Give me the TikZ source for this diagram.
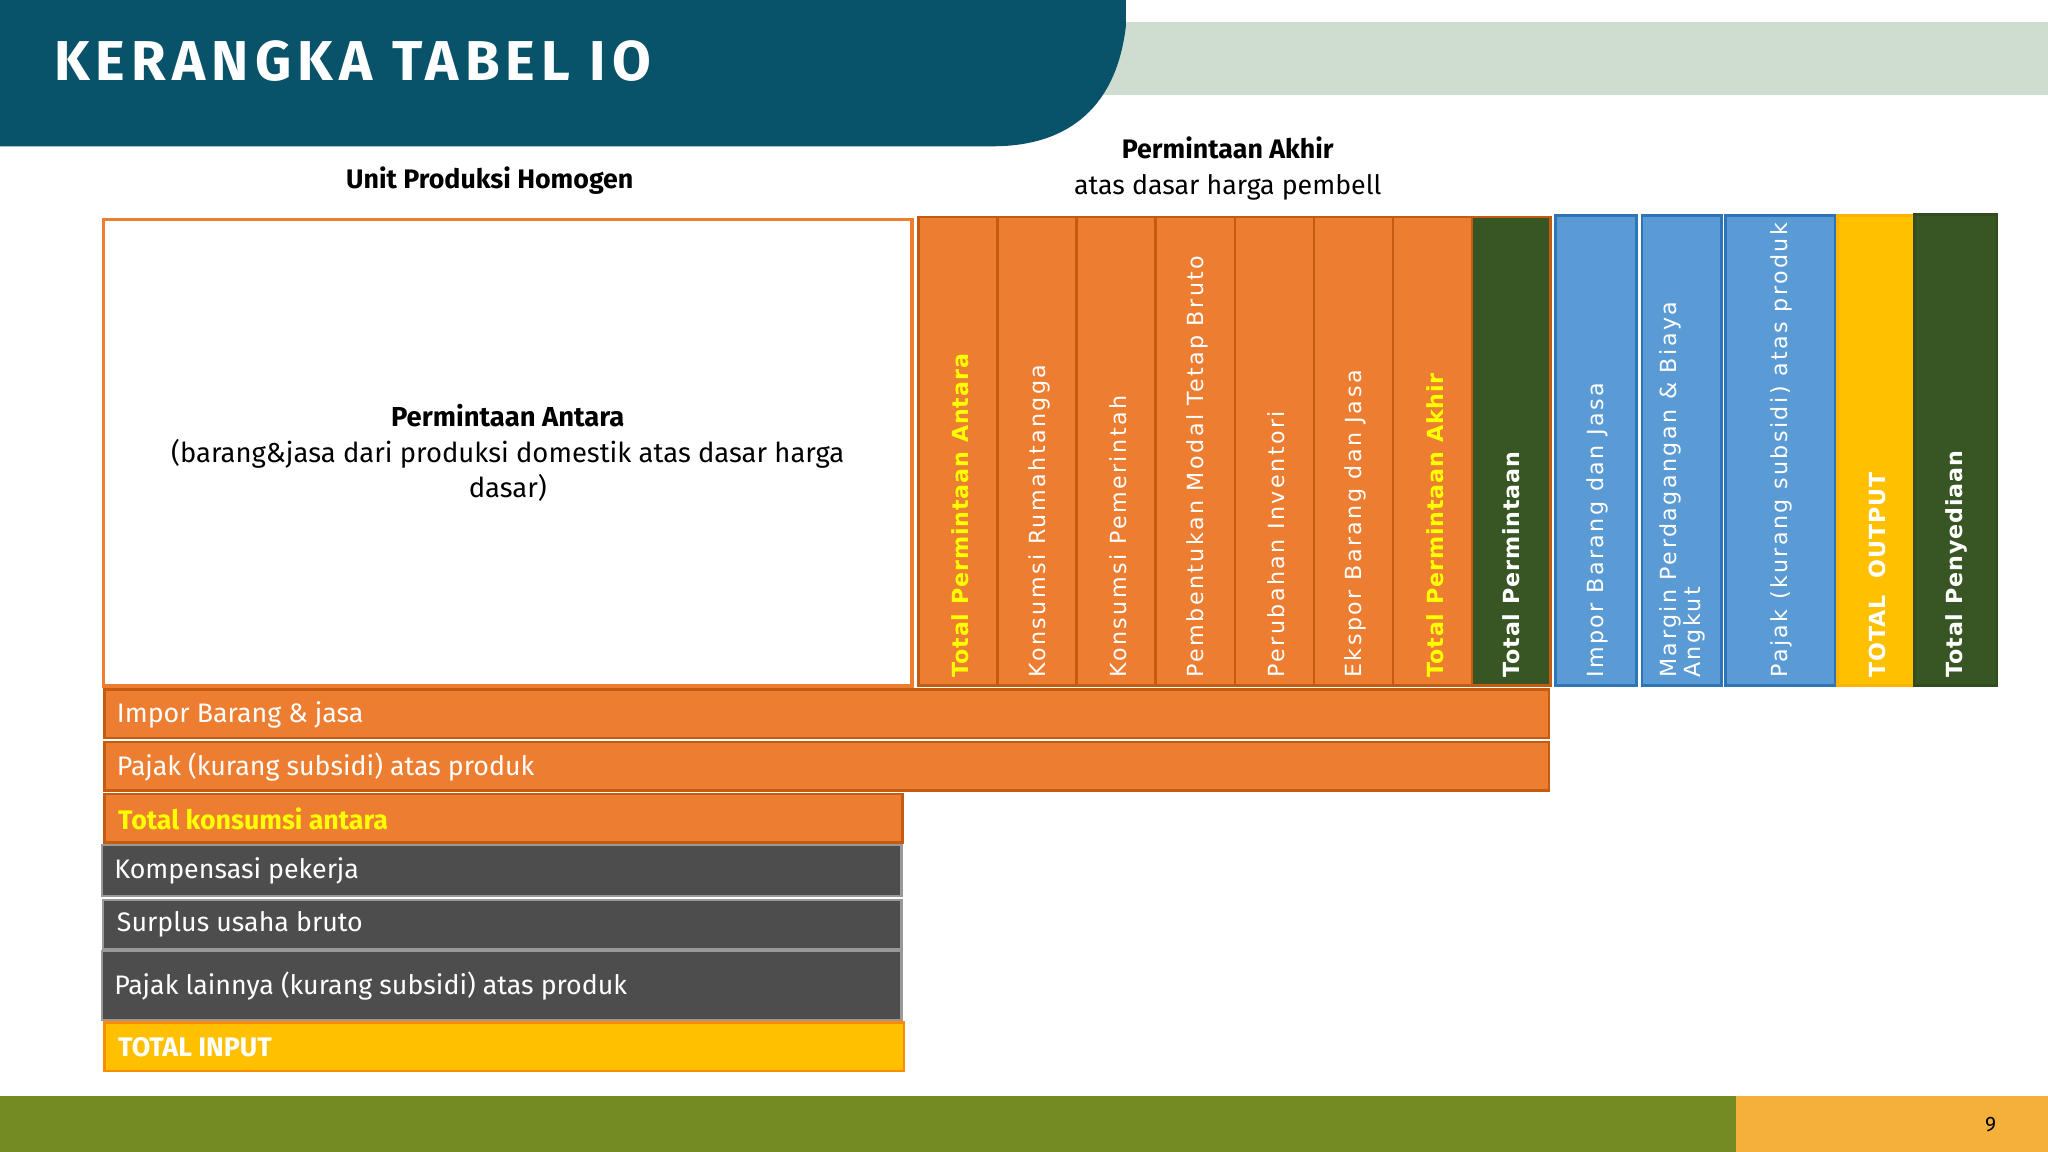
\documentclass[tikz,border=0pt]{standalone}
\usepackage{fontspec}
\setmainfont{Fira Sans}
\newfontfamily\titlefont{Fira Sans}[LetterSpace=11]
\newfontfamily\vfont{DejaVu Sans}[LetterSpace=4]
\newfontfamily\vfontn{DejaVu Sans}[LetterSpace=11]
\begin{document}
\begin{tikzpicture}[x=1pt,y=-1pt]
\definecolor{orng}{HTML}{ED7D31}
\definecolor{orb}{HTML}{C55A11}
\definecolor{teal}{HTML}{08536A}
\definecolor{dgreen}{HTML}{375623}
\definecolor{blu}{HTML}{5B9BD5}
\definecolor{blub}{HTML}{2E75B6}
\definecolor{yel}{HTML}{FFC000}
\definecolor{gry}{HTML}{4D4D4D}
\definecolor{olive}{HTML}{748B23}
\definecolor{yt}{HTML}{FFFF00}
\tikzset{txt/.style={font=\fontsize{21}{27}\selectfont},
  oc/.style={draw=orb, fill=orng, line width=2pt},
  vt/.style={rotate=90, anchor=west, font=\vfontn\fontsize{17}{18}\selectfont, white, align=left, inner sep=2pt},
  vtb/.style={vt, font=\vfont\bfseries\fontsize{17}{18}\selectfont},
  rowo/.style={draw=orb, fill=orng, line width=2pt},
  rowg/.style={draw=gray!80, fill=gry, line width=2pt},
  rt/.style={anchor=west, white, font=\fontsize{20.5}{22}\selectfont}}
\useasboundingbox (0,0) rectangle (1568,882);
\fill[white] (0,0) rectangle (1568,882);
% header
\fill[color={rgb,255:red,207;green,221;blue,208}] (830,17) rectangle (1568,73);
\fill[teal] (0,0) -- (862,0) -- (862,20) .. controls (855,80) and (820,112) .. (760,112) -- (0,112) -- cycle;
\node[anchor=west, white, font=\titlefont\bfseries\fontsize{43}{46}\selectfont] (title) at (38,47) {KERANGKA TABEL IO};
\node[font=\bfseries\fontsize{20.5}{22}\selectfont] (uph) at (375,138) {Unit Produksi Homogen};
\node[font=\fontsize{20.5}{28}\selectfont, align=center] (pak) at (940,129) {\textbf{Permintaan Akhir}\\atas dasar harga pembell};
% big box
\node[draw=orng, line width=2.5pt, fill=white, minimum width=619pt, minimum height=357pt, anchor=north west,
  txt, align=center] (pa) at (78,167)
  {\textbf{Permintaan Antara}\\(barang\&jasa dari produksi domestik atas dasar harga\\dasar)};
% orange columns
\foreach \i in {0,...,6}{\path[oc] (703+60.6*\i,166) rectangle (703+60.6*\i+60.6,525);}
\node[vtb, text=yt] (c0) at (735,521) {Total Permintaan Antara};
\node[vt] (c1) at (795.6,521) {Konsumsi Rumahtangga};
\node[vt] (c2) at (856.2,521) {Konsumsi Pemerintah};
\node[vt] (c3) at (916.8,521) {Pembentukan Modal Tetap Bruto};
\node[vt] (c4) at (977.4,521) {Perubahan Inventori};
\node[vt] (c5) at (1038,521) {Ekspor Barang dan Jasa};
\node[vtb, text=yt] (c6) at (1098.6,521) {Total Permintaan Akhir};
\path[draw=orb, fill=dgreen, line width=2pt] (1127,166) rectangle (1187,525);
\node[vtb] (tp) at (1157,521) {Total Permintaan};
\path[draw=blub, fill=blu, line width=2pt] (1191,165) rectangle (1253,525);
\node[vt] (ib) at (1223,521) {Impor Barang dan Jasa};
\path[draw=blub, fill=blu, line width=2pt] (1257,165) rectangle (1318,525);
\node[vt, font=\vfontn\fontsize{17}{19}\selectfont] (mp) at (1288,521) {Margin Perdagangan \& Biaya\\Angkut};
\path[draw=blub, fill=blu, line width=2pt] (1321,165) rectangle (1405,525);
\node[vt] (pj) at (1364,521) {Pajak (kurang subsidi) atas produk};
\path[draw=yel!80!orange, fill=yel, line width=2pt] (1407,165) rectangle (1466,525);
\node[vtb] (to) at (1437,521) {TOTAL\ \ OUTPUT};
\path[draw=dgreen!90!black, fill=dgreen, line width=2pt] (1466,164) rectangle (1529,525);
\node[vtb] (tpy) at (1498,521) {Total Penyediaan};
% rows
\path[rowo] (80,528) rectangle (1186,565); \node[rt] (r1) at (86,547) {Impor Barang \& jasa};
\path[rowo] (80,568) rectangle (1186,605); \node[rt] (r2) at (86,587) {Pajak (kurang subsidi) atas produk};
\path[rowo] (80,608) rectangle (691,645); \node[rt, text=yt, font=\bfseries\fontsize{20.5}{22}\selectfont] (r3) at (87,627) {Total konsumsi antara};
\path[rowg] (78,647) rectangle (690,686); \node[rt] (r4) at (84,667) {Kompensasi pekerja};
\path[rowg] (79,689) rectangle (690,727); \node[rt] (r5) at (86,708) {Surplus usaha bruto};
\path[rowg] (78,728) rectangle (690,781); \node[rt] (r6) at (84,755) {Pajak lainnya (kurang subsidi) atas produk};
\path[draw=orange!80!yel, fill=yel, line width=2pt] (80,783) rectangle (692,820); \node[rt, font=\bfseries\fontsize{20.5}{22}\selectfont] (r7) at (87,802) {TOTAL INPUT};
% footer
\fill[olive] (0,839) rectangle (1329,882);
\fill[color={rgb,255:red,244;green,176;blue,58}] (1329,839) rectangle (1568,882);
\node[font=\fontsize{16}{18}\selectfont] (pg) at (1524,861) {9};
\end{tikzpicture}
\end{document}
